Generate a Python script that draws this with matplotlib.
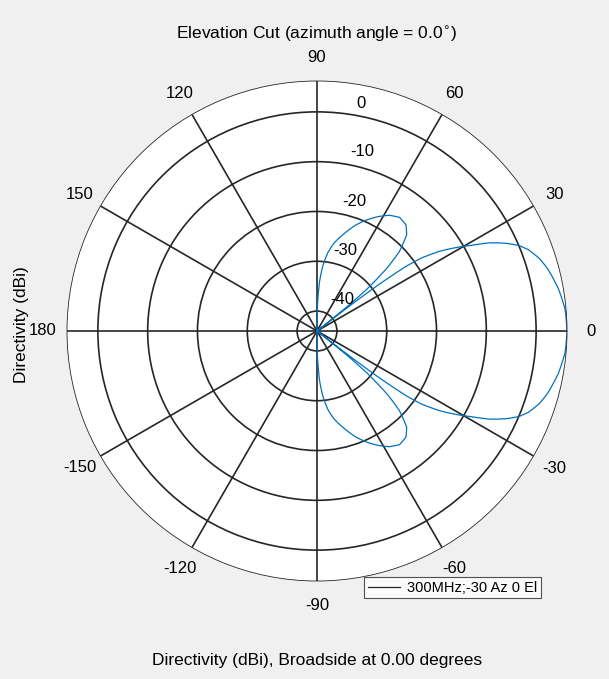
import matplotlib.pyplot as plt
import numpy as np

plt.rcParams['font.family'] = ['Liberation Sans', 'DejaVu Sans']

# pattern (elevation angle deg, directivity dBi), upper half
ang_half = [0, 5, 10, 15, 18, 21, 23, 25, 27, 29, 31, 33, 35, 36, 37, 37.5, 38,
            39, 40, 42, 44, 47, 50, 54, 58, 62, 66, 70, 75, 79, 82, 85, 87, 89, 90, 180]
dbi_half = [6.2, 6.0, 5.2, 4.0, 3.0, 1.5, 0.0, -2.3, -5.0, -8.5, -11.5, -14.6, -18.5,
            -22.0, -29.0, -35.0, -44.0,
            -36.0, -31.0, -25.0, -21.0, -17.6, -16.2, -15.8, -16.6, -18.0, -19.6, -21.4,
            -24.0, -26.0, -28.0, -31.0, -34.0, -39.0, -44.0, -44.0]
r_min, r_max = -44.0, 6.2
ring_vals = [-40, -30, -20, -10, 0]
ring_labels = ['-40', '-30', '-20', '-10', '0']
theta_ticks = [0, 30, 60, 90, 120, 150, 180, 210, 240, 270, 300, 330]
theta_labels = ['0', '30', '60', '90', '120', '150', '180', '-150', '-120', '-90', '-60', '-30']
series_name = '300MHz;-30 Az 0 El'

ang = np.array([-a for a in ang_half[::-1]] + ang_half[1:])
dbi = np.array(dbi_half[::-1] + dbi_half[1:])

W, H = 609, 679
fig = plt.figure(figsize=(W / 100, H / 100), dpi=100, facecolor='#f0f0f0')
cx, cy, R = 317, 331, 250
ax = fig.add_axes([(cx - R) / W, (H - cy - R) / H, 2 * R / W, 2 * R / H], projection='polar')
ax.set_facecolor('white')
line, = ax.plot(np.deg2rad(ang), dbi, color='#0072bd', lw=0.9, label=series_name)
line.get_path()._interpolation_steps = 8
ax.set_ylim(r_min, r_max)
ax.set_yticks(ring_vals)
ax.set_yticklabels([])
ax.set_xticks(np.deg2rad(theta_ticks))
ax.set_xticklabels([])
ax.grid(True, color='#262626', lw=1.2)
ax.spines['polar'].set_color('#262626')
ax.spines['polar'].set_linewidth(0.6)

# ring labels (angle deg, radius dBi) placed as in the reference
lab_pos = [(52, -35.9), (71, -26.8), (73.7, -17), (76, -6.8), (79, 2.6)]
for (a, r), t in zip(lab_pos, ring_labels):
    ax.text(np.deg2rad(a), r, t, ha='center', va='center', fontsize=12)

for a, t in zip(theta_ticks, theta_labels):
    x = cx + 274 * np.cos(np.deg2rad(a))
    y = cy - 274 * np.sin(np.deg2rad(a))
    fig.text(x / W, 1 - y / H, t, ha='center', va='center', fontsize=12)

fig.text(317 / W, 1 - 34 / H, r'Elevation Cut (azimuth angle = 0.0$^{\circ}$)',
         ha='center', va='center', fontsize=12.5)
fig.text(22 / W, 1 - 325 / H, 'Directivity (dBi)', rotation=90,
         ha='center', va='center', fontsize=12.5)
fig.text(317 / W, 1 - 661 / H, 'Directivity (dBi), Broadside at 0.00 degrees',
         ha='center', va='center', fontsize=12.5)

leg = fig.legend(loc='upper left', bbox_to_anchor=(364 / W, 1 - 577 / H), fontsize=10.5,
                 frameon=True, fancybox=False, borderpad=0.25, handlelength=2.2,
                 handletextpad=0.5, borderaxespad=0)
leg.get_frame().set_edgecolor('#262626')
leg.get_frame().set_linewidth(0.8)
leg.get_lines()[0].set_color('#262626')

fig.savefig('out.png', dpi=100, facecolor=fig.get_facecolor())
